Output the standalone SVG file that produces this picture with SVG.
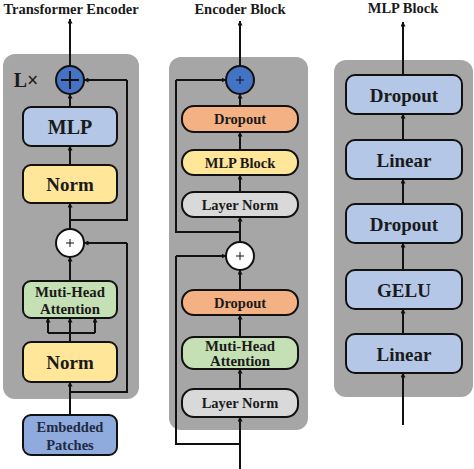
<svg xmlns="http://www.w3.org/2000/svg" width="474" height="469" viewBox="0 0 474 469">
<defs>
<marker id="ah" viewBox="0 0 10 10" refX="9" refY="5" markerWidth="5" markerHeight="5" orient="auto-start-reverse" markerUnits="userSpaceOnUse">
<path d="M0,0 L10,5 L0,10 z" fill="#111"/>
</marker>
<style>
.panel{fill:#a6a6a6;}
.box{stroke:#111;stroke-width:2;}
.t{font-family:"Liberation Serif","Times New Roman",serif;font-weight:bold;fill:#1a1a1a;text-anchor:middle;}
.ln{fill:none;stroke:#111;stroke-width:2;}
.ar{fill:none;stroke:#111;stroke-width:2;marker-end:url(#ah);}
</style>
</defs>
<rect width="474" height="469" fill="#fff"/>

<!-- panels -->
<rect class="panel" x="3" y="54" width="136" height="345" rx="12"/>
<rect class="panel" x="169" y="57" width="139" height="373" rx="12"/>
<rect class="panel" x="334" y="60" width="139" height="337" rx="12"/>

<!-- titles -->
<text class="t" x="71" y="14" font-size="14.5">Transformer Encoder</text>
<text class="t" x="240" y="14" font-size="14.5">Encoder Block</text>
<text class="t" x="403" y="13" font-size="14.5">MLP Block</text>
<text class="t" x="26" y="87" font-size="20">L×</text>

<!-- connectors -->
<g id="connectors">
<!-- left -->
<line class="ar" x1="70" y1="66" x2="70" y2="19"/>
<line class="ar" x1="70" y1="107" x2="70" y2="94"/>
<line class="ar" x1="70" y1="165" x2="70" y2="146"/>
<line class="ar" x1="70" y1="229" x2="70" y2="203"/>
<polyline class="ln" points="70,220 127,220 127,80"/>
<line class="ar" x1="127" y1="80" x2="84" y2="80"/>
<line class="ar" x1="70" y1="281" x2="70" y2="257"/>
<polyline class="ln" points="70,392 127,392 127,243"/>
<line class="ar" x1="127" y1="243" x2="84" y2="243"/>
<line class="ln" x1="70" y1="342" x2="70" y2="333"/>
<line class="ln" x1="48" y1="333" x2="95" y2="333"/>
<line class="ar" x1="48" y1="333" x2="48" y2="318"/>
<line class="ar" x1="70" y1="333" x2="70" y2="318"/>
<line class="ar" x1="95" y1="333" x2="95" y2="318"/>
<line class="ar" x1="70" y1="415" x2="70" y2="382"/>
<!-- middle -->
<line class="ar" x1="240" y1="66" x2="240" y2="21"/>
<line class="ar" x1="240" y1="106" x2="240" y2="94"/>
<line class="ar" x1="240" y1="150" x2="240" y2="132"/>
<line class="ar" x1="240" y1="192" x2="240" y2="175"/>
<line class="ar" x1="240" y1="242" x2="240" y2="217"/>
<polyline class="ln" points="240,232 176,232 176,80"/>
<line class="ar" x1="176" y1="80" x2="226" y2="80"/>
<line class="ar" x1="240" y1="290" x2="240" y2="270"/>
<line class="ar" x1="240" y1="337" x2="240" y2="315"/>
<line class="ar" x1="240" y1="389" x2="240" y2="369"/>
<line class="ar" x1="240" y1="469" x2="240" y2="417"/>
<polyline class="ln" points="240,444 176,444 176,256"/>
<line class="ar" x1="176" y1="256" x2="226" y2="256"/>
<!-- right -->
<line class="ar" x1="403" y1="75" x2="403" y2="22"/>
<line class="ar" x1="403" y1="140" x2="403" y2="114"/>
<line class="ar" x1="403" y1="204" x2="403" y2="179"/>
<line class="ar" x1="403" y1="270" x2="403" y2="243"/>
<line class="ar" x1="403" y1="334" x2="403" y2="309"/>
<line class="ar" x1="403" y1="425" x2="403" y2="373"/>
</g>

<!-- left nodes -->
<g id="l-add2"><circle class="box" cx="70" cy="80" r="14" fill="#4472c4"/><path d="M61,80 H79 M70,71 V89" stroke="#111" stroke-width="2"/></g>
<g id="l-mlp"><rect class="box" x="23" y="107" width="94" height="39" rx="8" fill="#b4c7e7"/><text class="t" x="70" y="133.5" font-size="20">MLP</text></g>
<g id="l-norm2"><rect class="box" x="23" y="165" width="94" height="38" rx="8" fill="#ffe699"/><text class="t" x="70" y="190.5" font-size="19">Norm</text></g>
<g id="l-add1"><circle class="box" cx="70" cy="243" r="14" fill="#fff"/><path d="M66,243 H74 M70,239 V247" stroke="#111" stroke-width="1"/></g>
<g id="l-mha"><rect class="box" x="23" y="281" width="94" height="37" rx="8" fill="#c5e0b4"/><text class="t" x="70" y="297" font-size="14.8">Muti-Head</text><text class="t" x="70" y="314" font-size="14.8">Attention</text></g>
<g id="l-norm1"><rect class="box" x="23" y="342" width="94" height="40" rx="8" fill="#ffe699"/><text class="t" x="70" y="368.5" font-size="19">Norm</text></g>
<g id="l-emb"><rect class="box" x="23" y="415" width="94" height="40" rx="8" fill="#8faadc"/><text class="t" x="70" y="432" font-size="14.5" style="fill:#1f2a44">Embedded</text><text class="t" x="70" y="450" font-size="14.5" style="fill:#1f2a44">Patches</text></g>

<!-- middle nodes -->
<g id="m-add2"><circle class="box" cx="240" cy="80" r="14" fill="#4472c4"/><path d="M236,80 H244 M240,76 V84" stroke="#111" stroke-width="1"/></g>
<g id="m-drop2"><rect class="box" x="182" y="106" width="116" height="26" rx="12" fill="#f4b183"/><text class="t" x="240" y="124" font-size="14.5">Dropout</text></g>
<g id="m-mlp"><rect class="box" x="182" y="150" width="116" height="25" rx="12" fill="#ffe699"/><text class="t" x="240" y="167.5" font-size="14.5">MLP Block</text></g>
<g id="m-ln2"><rect class="box" x="182" y="192" width="116" height="25" rx="12" fill="#d9d9d9"/><text class="t" x="240" y="209.5" font-size="14.5">Layer Norm</text></g>
<g id="m-add1"><circle class="box" cx="240" cy="256" r="14" fill="#fff"/><path d="M236,256 H244 M240,252 V260" stroke="#111" stroke-width="1"/></g>
<g id="m-drop1"><rect class="box" x="182" y="290" width="116" height="25" rx="12" fill="#f4b183"/><text class="t" x="240" y="308" font-size="14.5">Dropout</text></g>
<g id="m-mha"><rect class="box" x="182" y="337" width="116" height="32" rx="12" fill="#c5e0b4"/><text class="t" x="240" y="351" font-size="14.8">Muti-Head</text><text class="t" x="240" y="366" font-size="14.8">Attention</text></g>
<g id="m-ln1"><rect class="box" x="182" y="389" width="116" height="28" rx="12" fill="#d9d9d9"/><text class="t" x="240" y="408" font-size="14.5">Layer Norm</text></g>

<!-- right nodes -->
<g id="r-drop2"><rect class="box" x="346" y="75" width="116" height="39" rx="9" fill="#b4c7e7"/><text class="t" x="404" y="101.5" font-size="19">Dropout</text></g>
<g id="r-lin2"><rect class="box" x="346" y="140" width="116" height="39" rx="9" fill="#b4c7e7"/><text class="t" x="404" y="166.5" font-size="19">Linear</text></g>
<g id="r-drop1"><rect class="box" x="346" y="204" width="116" height="39" rx="9" fill="#b4c7e7"/><text class="t" x="404" y="230.5" font-size="19">Dropout</text></g>
<g id="r-gelu"><rect class="box" x="346" y="270" width="116" height="39" rx="9" fill="#b4c7e7"/><text class="t" x="404" y="296.5" font-size="19">GELU</text></g>
<g id="r-lin1"><rect class="box" x="346" y="334" width="116" height="39" rx="9" fill="#b4c7e7"/><text class="t" x="404" y="360.5" font-size="19">Linear</text></g>
</svg>
